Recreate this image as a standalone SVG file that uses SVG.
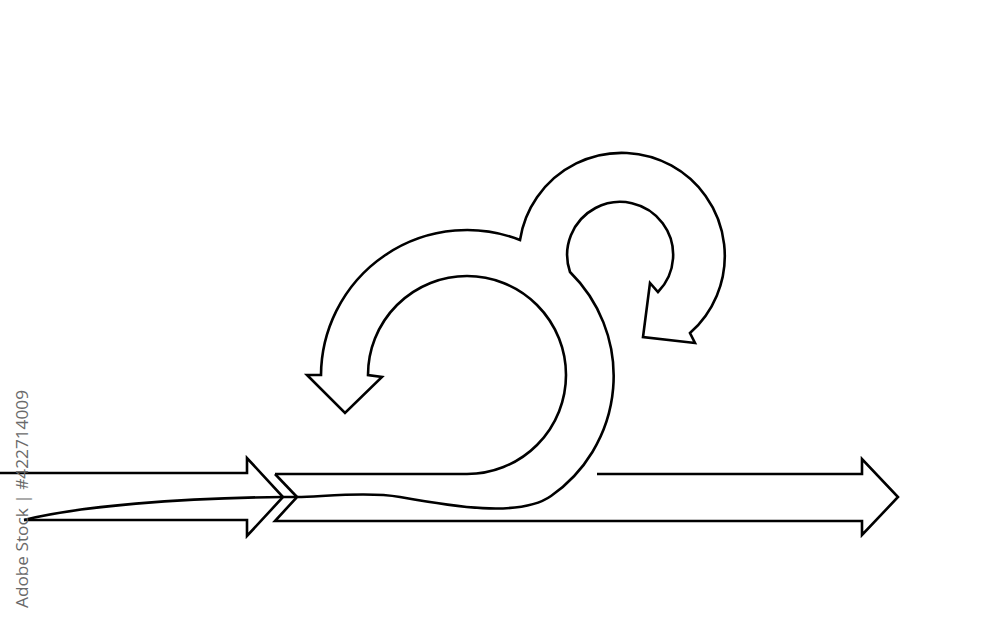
<svg xmlns="http://www.w3.org/2000/svg" width="1000" height="625" viewBox="0 0 1000 625">
<style>
.ln{fill:none;stroke:#000;stroke-width:2.6;stroke-linejoin:miter;stroke-linecap:butt}
.wm{font-family:"Open Sans","Liberation Sans",sans-serif;font-size:17px;fill:#6a6a6a}
</style>
<rect width="1000" height="625" fill="#fff"/>
<g id="left-arrow">
<path class="ln" d="M0,473 L247,473 L247,458 L283,497 L247,536 L247,520 L24,520"/>
<path class="ln" d="M24,520 C80,506 180,498 283,497 L297,497"/>
</g>
<g id="loop-figure">
<path class="ln" d="M275,474 L467,474 A99,99 0 1 0 368,375 L382,377 L345,413 L307,375 L321,375 A146,146 0 0 1 520,240 A103,103 0 1 1 690,333 L695,343 L643,337 L650,283 L658,292 A53,53 0 1 0 570,272 A146,146 0 0 1 551,496 C520,518 450,506 400,497 C370,492 330,496 297,497 L275,521 L862,521 L862,535 L898,497 L862,459 L862,474 L597,474"/>
<path class="ln" d="M275,474 L297,497"/>
</g>
<g id="watermark">
<text class="wm" transform="translate(28,608) rotate(-90)" textLength="218" lengthAdjust="spacingAndGlyphs">Adobe Stock | #422714009</text>
</g>
</svg>
